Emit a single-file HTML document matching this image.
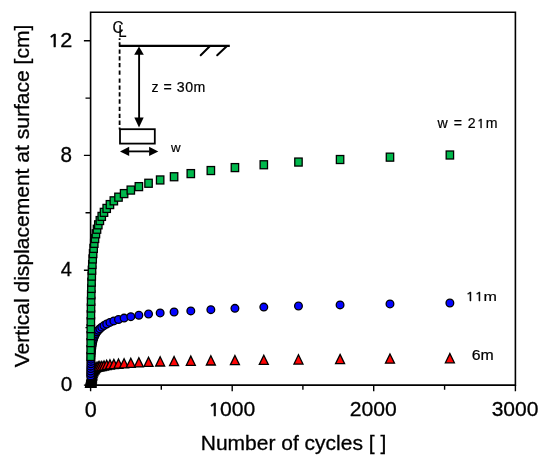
<!DOCTYPE html>
<html><head><meta charset="utf-8"><style>
html,body{margin:0;padding:0;background:#fff;}
svg{display:block;}
</style></head><body>
<svg width="550" height="461" viewBox="0 0 550 461" font-family="Liberation Sans, Arial, sans-serif">
<style>text{fill:#000;stroke:#000;stroke-width:0.3px;} .ann text{stroke-width:0.2px;}</style>
<rect width="550" height="461" fill="#fff"/>
<!-- frame -->
<g fill="none" stroke="#000" stroke-width="1.6">
<path d="M90.6 12.2H515.4V385.1H90.6Z"/>
</g>
<g stroke="#000" stroke-width="1.4">
<path d="M83.9 40.7H90.6M85.5 98.1H90.6M83.9 155.4H90.6M85.5 212.8H90.6M83.9 270.2H90.6M85.5 327.6H90.6M83.9 385.1H90.6"/>
<path d="M90.6 385.1V391.3M161.3 385.1V389.7M232.2 385.1V391.3M302.9 385.1V389.7M373.7 385.1V391.3M444.6 385.1V389.7M515.4 385.1V391.3"/>
</g>
<text transform="translate(48.07 46.60) scale(1.0308 0.9695)" font-size="21"><tspan font-family="NanumGothic, Liberation Sans, sans-serif" font-size="19.3" style="stroke-width:0.7px">1</tspan>2</text>
<text transform="translate(60.62 161.64) scale(0.9846 1.0333)" font-size="21">8</text>
<text transform="translate(60.72 275.70) scale(0.9524 0.9862)" font-size="21">4</text>
<text transform="translate(60.86 390.86) scale(0.9900 0.9800)" font-size="21">0</text>
<text transform="translate(84.73 416.83) scale(1.0300 1.0800)" font-size="21">0</text>
<text transform="translate(208.23 415.86) scale(1.0081 0.9533)" font-size="21"><tspan font-family="NanumGothic, Liberation Sans, sans-serif" font-size="19.3" style="stroke-width:0.7px">1</tspan>000</text>
<text transform="translate(349.79 415.85) scale(1.0067 1.0067)" font-size="21">2000</text>
<text transform="translate(491.65 415.86) scale(1.0033 0.9800)" font-size="21">3000</text>
<text transform="translate(200.76 449.58) scale(1.0501 1.0541)" font-size="20">Number of cycles [ ]</text>
<text transform="translate(28.82 367.36) rotate(-90) scale(1.0528 0.9946)" font-size="20">Vertical displacement at surface [cm]</text>
<!-- data -->
<g fill="#ff0505" stroke="#000" stroke-width="1.3" stroke-linejoin="miter">
<path d="M90.64 378.00L95.14 387.20L86.14 387.20Z" stroke-width="1.8"/>
<path d="M90.67 377.85L95.17 387.05L86.17 387.05Z" stroke-width="1.8"/>
<path d="M90.70 377.62L95.20 386.82L86.20 386.82Z" stroke-width="1.8"/>
<path d="M90.74 377.33L95.24 386.53L86.24 386.53Z" stroke-width="1.8"/>
<path d="M90.79 377.00L95.29 386.20L86.29 386.20Z" stroke-width="1.8"/>
<path d="M90.85 376.59L95.35 385.79L86.35 385.79Z" stroke-width="1.8"/>
<path d="M90.92 376.08L95.42 385.28L86.42 385.28Z" stroke-width="1.8"/>
<path d="M91.01 375.47L95.51 384.67L86.51 384.67Z" stroke-width="1.8"/>
<path d="M91.11 374.80L95.61 384.00L86.61 384.00Z" stroke-width="1.8"/>
<path d="M91.23 374.02L95.73 383.22L86.73 383.22Z" stroke-width="1.8"/>
<path d="M91.38 373.11L95.88 382.31L86.88 382.31Z" stroke-width="1.8"/>
<path d="M91.55 372.09L96.05 381.29L87.05 381.29Z" stroke-width="1.8"/>
<path d="M91.76 371.00L96.26 380.20L87.26 380.20Z" stroke-width="1.8"/>
<path d="M92.01 369.70L96.51 378.90L87.51 378.90Z" stroke-width="1.8"/>
<path d="M92.32 368.20L96.82 377.40L87.82 377.40Z" stroke-width="1.8"/>
<path d="M92.68 366.75L97.18 375.95L88.18 375.95Z" stroke-width="1.8"/>
<path d="M93.12 365.60L97.62 374.80L88.62 374.80Z" stroke-width="1.8"/>
<path d="M93.64 364.75L98.14 373.95L89.14 373.95Z" stroke-width="1.8"/>
<path d="M94.27 364.03L98.77 373.23L89.77 373.23Z" stroke-width="1.8"/>
<path d="M95.02 363.39L99.52 372.59L90.52 372.59Z"/>
<path d="M95.92 362.80L100.42 372.00L91.42 372.00Z"/>
<path d="M97.01 362.23L101.51 371.43L92.51 371.43Z"/>
<path d="M98.31 361.80L102.81 371.00L93.81 371.00Z"/>
<path d="M99.87 361.60L104.37 370.80L95.37 370.80Z"/>
<path d="M101.75 361.40L106.25 370.60L97.25 370.60Z"/>
<path d="M104.00 360.90L108.50 370.10L99.50 370.10Z"/>
<path d="M106.70 360.30L111.20 369.50L102.20 369.50Z"/>
<path d="M109.94 359.82L114.44 369.02L105.44 369.02Z"/>
<path d="M113.83 359.40L118.33 368.60L109.33 368.60Z"/>
<path d="M118.49 359.05L122.99 368.25L113.99 368.25Z"/>
<path d="M124.09 358.70L128.59 367.90L119.59 367.90Z"/>
<path d="M130.81 358.22L135.31 367.42L126.31 367.42Z"/>
<path d="M138.87 357.69L143.37 366.89L134.37 366.89Z"/>
<path d="M148.54 357.20L153.04 366.40L144.04 366.40Z"/>
<path d="M160.15 356.80L164.65 366.00L155.65 366.00Z"/>
<path d="M174.08 356.44L178.58 365.64L169.58 365.64Z"/>
<path d="M190.80 356.10L195.30 365.30L186.30 365.30Z"/>
<path d="M210.85 355.80L215.35 365.00L206.35 365.00Z"/>
<path d="M234.93 355.51L239.43 364.71L230.43 364.71Z"/>
<path d="M263.81 355.20L268.31 364.40L259.31 364.40Z"/>
<path d="M298.47 354.83L302.97 364.03L293.97 364.03Z"/>
<path d="M340.07 354.41L344.57 363.61L335.57 363.61Z"/>
<path d="M389.98 354.00L394.48 363.20L385.48 363.20Z"/>
<path d="M449.88 353.60L454.38 362.80L445.38 362.80Z"/>
</g>
<g fill="#0505ff" stroke="#000" stroke-width="1.3">
<circle cx="90.64" cy="375.90" r="3.85"/>
<circle cx="90.67" cy="373.46" r="3.85"/>
<circle cx="90.70" cy="371.02" r="3.85"/>
<circle cx="90.74" cy="368.60" r="3.85"/>
<circle cx="90.79" cy="366.16" r="3.85"/>
<circle cx="90.85" cy="363.73" r="3.85"/>
<circle cx="90.92" cy="361.40" r="3.85"/>
<circle cx="91.01" cy="359.19" r="3.85"/>
<circle cx="91.11" cy="357.07" r="3.85"/>
<circle cx="91.23" cy="354.99" r="3.85"/>
<circle cx="91.38" cy="352.90" r="3.85"/>
<circle cx="91.55" cy="350.78" r="3.85"/>
<circle cx="91.76" cy="348.65" r="3.85"/>
<circle cx="92.01" cy="346.54" r="3.85"/>
<circle cx="92.32" cy="344.48" r="3.85"/>
<circle cx="92.68" cy="342.50" r="3.85"/>
<circle cx="93.12" cy="340.60" r="3.85"/>
<circle cx="93.64" cy="338.75" r="3.85"/>
<circle cx="94.27" cy="336.95" r="3.85"/>
<circle cx="95.02" cy="335.20" r="3.85"/>
<circle cx="95.92" cy="333.50" r="3.85"/>
<circle cx="97.01" cy="331.86" r="3.85"/>
<circle cx="98.31" cy="330.27" r="3.85"/>
<circle cx="99.87" cy="328.72" r="3.85"/>
<circle cx="101.75" cy="327.17" r="3.85"/>
<circle cx="104.00" cy="325.60" r="3.85"/>
<circle cx="106.70" cy="323.98" r="3.85"/>
<circle cx="109.94" cy="322.40" r="3.85"/>
<circle cx="113.83" cy="320.92" r="3.85"/>
<circle cx="118.49" cy="319.50" r="3.85"/>
<circle cx="124.09" cy="318.10" r="3.85"/>
<circle cx="130.81" cy="316.68" r="3.85"/>
<circle cx="138.87" cy="315.28" r="3.85"/>
<circle cx="148.54" cy="314.00" r="3.85"/>
<circle cx="160.15" cy="312.93" r="3.85"/>
<circle cx="174.08" cy="311.95" r="3.85"/>
<circle cx="190.80" cy="310.90" r="3.85"/>
<circle cx="210.85" cy="309.66" r="3.85"/>
<circle cx="234.93" cy="308.34" r="3.85"/>
<circle cx="263.81" cy="307.10" r="3.85"/>
<circle cx="298.47" cy="305.99" r="3.85"/>
<circle cx="340.07" cy="304.92" r="3.85"/>
<circle cx="389.98" cy="303.93" r="3.85"/>
<circle cx="449.88" cy="303.00" r="3.85"/>
</g>
<g fill="#00b84c" stroke="#000" stroke-width="1.3">
<rect x="86.94" y="352.49" width="7.4" height="8.0"/>
<rect x="86.97" y="345.61" width="7.4" height="8.0"/>
<rect x="87.00" y="338.64" width="7.4" height="8.0"/>
<rect x="87.04" y="331.65" width="7.4" height="8.0"/>
<rect x="87.09" y="324.66" width="7.4" height="8.0"/>
<rect x="87.15" y="317.70" width="7.4" height="8.0"/>
<rect x="87.22" y="310.82" width="7.4" height="8.0"/>
<rect x="87.31" y="304.03" width="7.4" height="8.0"/>
<rect x="87.41" y="297.35" width="7.4" height="8.0"/>
<rect x="87.53" y="290.81" width="7.4" height="8.0"/>
<rect x="87.68" y="284.41" width="7.4" height="8.0"/>
<rect x="87.85" y="278.18" width="7.4" height="8.0"/>
<rect x="88.06" y="272.11" width="7.4" height="8.0"/>
<rect x="88.31" y="266.21" width="7.4" height="8.0"/>
<rect x="88.62" y="260.49" width="7.4" height="8.0"/>
<rect x="88.98" y="254.94" width="7.4" height="8.0"/>
<rect x="89.42" y="249.58" width="7.4" height="8.0"/>
<rect x="89.94" y="244.38" width="7.4" height="8.0"/>
<rect x="90.57" y="239.36" width="7.4" height="8.0"/>
<rect x="91.32" y="234.50" width="7.4" height="8.0"/>
<rect x="92.22" y="229.80" width="7.4" height="8.0"/>
<rect x="93.31" y="225.24" width="7.4" height="8.0"/>
<rect x="94.61" y="220.83" width="7.4" height="8.0"/>
<rect x="96.17" y="216.55" width="7.4" height="8.0"/>
<rect x="98.05" y="212.40" width="7.4" height="8.0"/>
<rect x="100.30" y="208.36" width="7.4" height="8.0"/>
<rect x="103.00" y="204.42" width="7.4" height="8.0"/>
<rect x="106.24" y="200.58" width="7.4" height="8.0"/>
<rect x="110.13" y="196.84" width="7.4" height="8.0"/>
<rect x="114.79" y="193.17" width="7.4" height="8.0"/>
<rect x="120.39" y="189.59" width="7.4" height="8.0"/>
<rect x="127.11" y="186.07" width="7.4" height="8.0"/>
<rect x="135.17" y="182.63" width="7.4" height="8.0"/>
<rect x="144.84" y="179.26" width="7.4" height="8.0"/>
<rect x="156.45" y="175.96" width="7.4" height="8.0"/>
<rect x="170.38" y="172.74" width="7.4" height="8.0"/>
<rect x="187.10" y="169.60" width="7.4" height="8.0"/>
<rect x="207.15" y="166.54" width="7.4" height="8.0"/>
<rect x="231.23" y="163.59" width="7.4" height="8.0"/>
<rect x="260.11" y="160.76" width="7.4" height="8.0"/>
<rect x="294.77" y="158.06" width="7.4" height="8.0"/>
<rect x="336.37" y="155.52" width="7.4" height="8.0"/>
<rect x="386.28" y="153.15" width="7.4" height="8.0"/>
<rect x="446.18" y="151.00" width="7.4" height="8.0"/>
</g>
<!-- inset -->
<g stroke="#000" fill="none">
<path d="M119.6 38.3V40.0M119.6 42.2V46.6M119.6 49.5V53.8M119.6 56.2V60.5M119.6 63.0V67.2M119.6 70.4V74.8M119.6 78.5V82.8M119.6 85.4V89.7M119.6 92.3V96.6M119.6 99.3V103.8M119.6 106.8V111.1M119.6 113.7V118.0M119.6 120.6V124.9M119.6 127.6V129.5" stroke-width="1.8"/>
<path d="M119 45.8H229.8" stroke-width="2.2"/>
<path d="M210 46L200.7 55.3M227 46L217.2 55.3" stroke-width="2" stroke-linecap="round"/>
<path d="M139.1 53V118.5" stroke-width="1.9"/>
<path d="M128.5 151.4H149.5" stroke-width="1.8"/>
<rect x="120" y="129.2" width="34.8" height="14.4" stroke-width="1.8"/>
</g>
<g fill="#000">
<path d="M139 46.5L143.8 54.8H134.2Z"/>
<path d="M139 127.6L143.7 117.4H134.3Z"/>
<path d="M120 151.4L129.2 146.8V156Z"/>
<path d="M158.3 151.4L149.1 146.8V156Z"/>
</g>
<g class="ann"><text transform="translate(151.59 91.70) scale(1.0106 0.9846)" font-size="14" letter-spacing="0.5">z = 30m</text>
<text transform="translate(170.90 151.50) scale(0.9500 0.9793)" font-size="14">w</text>
<text transform="translate(437.50 127.50) scale(1.0103 1.0256)" font-size="14" letter-spacing="1.0">w = 2<tspan font-family="NanumGothic, Liberation Sans, sans-serif" font-size="12.9" style="stroke-width:0.45px">1</tspan>m</text>
<text transform="translate(465.50 300.90) scale(1.1505 0.8947)" font-size="14"><tspan font-family="NanumGothic, Liberation Sans, sans-serif" font-size="12.9" style="stroke-width:0.45px">1</tspan><tspan font-family="NanumGothic, Liberation Sans, sans-serif" font-size="12.9" style="stroke-width:0.45px">1</tspan>m</text>
<text transform="translate(471.75 359.90) scale(1.1324 1.0872)" font-size="14">6m</text>
<text transform="translate(112.53 32.50) scale(1.0211 1.0762)" font-size="15">C</text>
<text transform="translate(118.17 36.50) scale(1.0667 1.1789)" font-size="14">L</text></g>
</svg>
</body></html>
